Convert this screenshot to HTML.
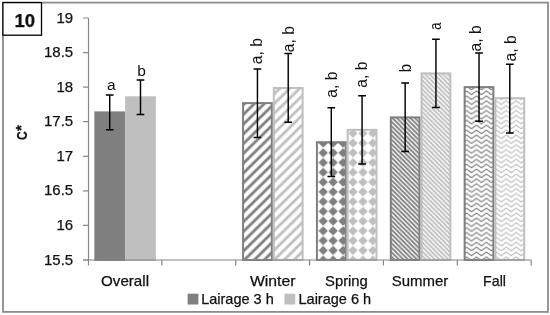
<!DOCTYPE html><html><head><meta charset="utf-8"><style>
html,body{margin:0;padding:0;background:#fff;width:550px;height:315px;overflow:hidden}
svg{display:block}
text{font-family:'Liberation Sans', Arial, sans-serif;fill:#111;stroke:#111;stroke-width:0.25px}
</style></head><body>
<svg width="550" height="315" viewBox="0 0 550 315">
<defs>
<pattern id="upd" patternUnits="userSpaceOnUse" x="2.4" y="0" width="9.93" height="9.76">
<rect width="9.93" height="9.76" fill="#fff"/>
<path d="M-9.93 19.52 L19.86 -9.76 M-19.86 19.52 L9.93 -9.76 M0 19.52 L29.79 -9.76" stroke="#7f7f7f" stroke-width="2.80"/>
</pattern>
<pattern id="dnd" patternUnits="userSpaceOnUse" x="4.4" y="0" width="4.5" height="4.5">
<rect width="4.5" height="4.5" fill="#fff"/>
<path d="M-4.5 -4.5 L9.0 9.0 M0 -4.5 L13.5 9.0 M-9.0 -4.5 L4.5 9.0" stroke="#7f7f7f" stroke-width="1.78"/>
</pattern>
<pattern id="diad" patternUnits="userSpaceOnUse" x="318.24" y="147.92" width="9.93" height="9.76">
<rect width="9.93" height="9.76" fill="#fff"/>
<path d="M4.965 0.20999999999999996 L9.709375 4.88 L4.965 9.55 L0.22062500000000007 4.88 Z" fill="#7f7f7f"/>
</pattern>
<pattern id="zzd" patternUnits="userSpaceOnUse" x="466.54" y="198.34" width="9.93" height="4.88">
<rect width="9.93" height="4.88" fill="#fff"/>
<path d="M-4.965 3.66 L0 0 L4.965 3.66 L9.93 0 L14.895 3.66 M-4.965 8.54 L0 4.88 L4.965 8.54 L9.93 4.88 L14.895 8.54 M-4.965 -1.2199999999999998 L0 -4.88 L4.965 -1.2199999999999998 L9.93 -4.88 L14.895 -1.2199999999999998" fill="none" stroke="#7f7f7f" stroke-width="1.05"/>
</pattern>
<pattern id="upl" patternUnits="userSpaceOnUse" x="2.4" y="0" width="9.93" height="9.76">
<rect width="9.93" height="9.76" fill="#fff"/>
<path d="M-9.93 19.52 L19.86 -9.76 M-19.86 19.52 L9.93 -9.76 M0 19.52 L29.79 -9.76" stroke="#bfbfbf" stroke-width="2.80"/>
</pattern>
<pattern id="dnl" patternUnits="userSpaceOnUse" x="4.4" y="0" width="4.5" height="4.5">
<rect width="4.5" height="4.5" fill="#fff"/>
<path d="M-4.5 -4.5 L9.0 9.0 M0 -4.5 L13.5 9.0 M-9.0 -4.5 L4.5 9.0" stroke="#bfbfbf" stroke-width="1.78"/>
</pattern>
<pattern id="dial" patternUnits="userSpaceOnUse" x="318.24" y="147.92" width="9.93" height="9.76">
<rect width="9.93" height="9.76" fill="#fff"/>
<path d="M4.965 0.20999999999999996 L9.709375 4.88 L4.965 9.55 L0.22062500000000007 4.88 Z" fill="#bfbfbf"/>
</pattern>
<pattern id="zzl" patternUnits="userSpaceOnUse" x="466.54" y="198.34" width="9.93" height="4.88">
<rect width="9.93" height="4.88" fill="#fff"/>
<path d="M-4.965 3.66 L0 0 L4.965 3.66 L9.93 0 L14.895 3.66 M-4.965 8.54 L0 4.88 L4.965 8.54 L9.93 4.88 L14.895 8.54 M-4.965 -1.2199999999999998 L0 -4.88 L4.965 -1.2199999999999998 L9.93 -4.88 L14.895 -1.2199999999999998" fill="none" stroke="#bfbfbf" stroke-width="1.05"/>
</pattern>
</defs>
<rect x="0" y="0" width="550" height="315" fill="#fff"/>
<rect x="3" y="2.6" width="545" height="309.3" fill="none" stroke="#8c8c8c" stroke-width="1.8"/>

<rect x="95.35" y="112.40" width="28.75" height="147.60" fill="#7f7f7f" stroke="#7f7f7f" stroke-width="2"/>
<rect x="126.10" y="97.30" width="28.80" height="162.70" fill="#bfbfbf" stroke="#bfbfbf" stroke-width="2"/>
<rect x="243.07" y="103.10" width="28.75" height="156.90" fill="url(#upd)" stroke="#7f7f7f" stroke-width="2"/>
<rect x="273.82" y="88.00" width="28.80" height="172.00" fill="url(#upl)" stroke="#bfbfbf" stroke-width="2"/>
<rect x="316.93" y="142.20" width="28.75" height="117.80" fill="url(#diad)" stroke="#7f7f7f" stroke-width="2"/>
<rect x="347.68" y="129.85" width="28.80" height="130.15" fill="url(#dial)" stroke="#bfbfbf" stroke-width="2"/>
<rect x="390.79" y="117.40" width="28.75" height="142.60" fill="url(#dnd)" stroke="#7f7f7f" stroke-width="2"/>
<rect x="421.54" y="73.40" width="28.80" height="186.60" fill="url(#dnl)" stroke="#bfbfbf" stroke-width="2"/>
<rect x="464.65" y="87.10" width="28.75" height="172.90" fill="url(#zzd)" stroke="#7f7f7f" stroke-width="2"/>
<rect x="495.40" y="98.20" width="28.80" height="161.80" fill="url(#zzl)" stroke="#bfbfbf" stroke-width="2"/>
<path d="M88.5 18 V265.5 M83 260.0 H531.5" stroke="#868686" stroke-width="1.2" fill="none"/>
<path d="M83 18.00 H88.5 M83 52.57 H88.5 M83 87.14 H88.5 M83 121.71 H88.5 M83 156.29 H88.5 M83 190.86 H88.5 M83 225.43 H88.5 M83 260.00 H88.5 M161.86 260.0 V265.5 M235.72 260.0 V265.5 M309.58 260.0 V265.5 M383.44 260.0 V265.5 M457.30 260.0 V265.5 M531.16 260.0 V265.5" stroke="#868686" stroke-width="1.2" fill="none"/>
<path d="M109.72 95.10 V129.70" stroke="#000" stroke-width="1.45" fill="none"/>
<path d="M105.88 95.10 H113.57 M105.88 129.70 H113.57" stroke="#000" stroke-width="1.5" fill="none"/>
<path d="M140.50 80.10 V114.60" stroke="#000" stroke-width="1.45" fill="none"/>
<path d="M136.65 80.10 H144.35 M136.65 114.60 H144.35" stroke="#000" stroke-width="1.5" fill="none"/>
<path d="M257.44 68.90 V137.40" stroke="#000" stroke-width="1.45" fill="none"/>
<path d="M253.59 68.90 H261.30 M253.59 137.40 H261.30" stroke="#000" stroke-width="1.5" fill="none"/>
<path d="M288.22 53.60 V122.30" stroke="#000" stroke-width="1.45" fill="none"/>
<path d="M284.37 53.60 H292.07 M284.37 122.30 H292.07" stroke="#000" stroke-width="1.5" fill="none"/>
<path d="M331.30 107.85 V176.40" stroke="#000" stroke-width="1.45" fill="none"/>
<path d="M327.45 107.85 H335.15 M327.45 176.40 H335.15" stroke="#000" stroke-width="1.5" fill="none"/>
<path d="M362.08 95.70 V164.00" stroke="#000" stroke-width="1.45" fill="none"/>
<path d="M358.23 95.70 H365.93 M358.23 164.00 H365.93" stroke="#000" stroke-width="1.5" fill="none"/>
<path d="M405.16 83.10 V151.60" stroke="#000" stroke-width="1.45" fill="none"/>
<path d="M401.31 83.10 H409.01 M401.31 151.60 H409.01" stroke="#000" stroke-width="1.5" fill="none"/>
<path d="M435.94 39.20 V107.60" stroke="#000" stroke-width="1.45" fill="none"/>
<path d="M432.09 39.20 H439.79 M432.09 107.60 H439.79" stroke="#000" stroke-width="1.5" fill="none"/>
<path d="M479.02 52.90 V121.25" stroke="#000" stroke-width="1.45" fill="none"/>
<path d="M475.17 52.90 H482.88 M475.17 121.25 H482.88" stroke="#000" stroke-width="1.5" fill="none"/>
<path d="M509.80 64.15 V132.90" stroke="#000" stroke-width="1.45" fill="none"/>
<path d="M505.95 64.15 H513.65 M505.95 132.90 H513.65" stroke="#000" stroke-width="1.5" fill="none"/>
<text x="73.2" y="22.60" font-size="15" text-anchor="end">19</text>
<text x="73.2" y="57.17" font-size="15" text-anchor="end">18.5</text>
<text x="73.2" y="91.74" font-size="15" text-anchor="end">18</text>
<text x="73.2" y="126.31" font-size="15" text-anchor="end">17.5</text>
<text x="73.2" y="160.89" font-size="15" text-anchor="end">17</text>
<text x="73.2" y="195.46" font-size="15" text-anchor="end">16.5</text>
<text x="73.2" y="230.03" font-size="15" text-anchor="end">16</text>
<text x="73.2" y="264.60" font-size="15" text-anchor="end">15.5</text>
<rect x="187.6" y="293.7" width="10.8" height="10.8" fill="#7f7f7f"/>
<rect x="284.4" y="293.7" width="10.8" height="10.8" fill="#bfbfbf"/>
<rect x="2.9" y="2.6" width="38.6" height="32.6" fill="#fff" stroke="#000" stroke-width="1.3"/>
<text x="14.41" y="26.90" font-size="17.5" font-weight="bold" textLength="20.67" lengthAdjust="spacingAndGlyphs">10</text>
<text x="101.03" y="286.20" font-size="14.2" font-weight="normal" textLength="48.02" lengthAdjust="spacingAndGlyphs">Overall</text>
<text x="249.96" y="286.20" font-size="14.2" font-weight="normal" textLength="45.53" lengthAdjust="spacingAndGlyphs">Winter</text>
<text x="325.06" y="286.20" font-size="14.2" font-weight="normal" textLength="42.77" lengthAdjust="spacingAndGlyphs">Spring</text>
<text x="391.81" y="286.20" font-size="14.2" font-weight="normal" textLength="56.46" lengthAdjust="spacingAndGlyphs">Summer</text>
<text x="483.12" y="286.20" font-size="14.2" font-weight="normal" textLength="22.84" lengthAdjust="spacingAndGlyphs">Fall</text>
<text x="201.20" y="303.60" font-size="14.2" font-weight="normal" textLength="72.52" lengthAdjust="spacingAndGlyphs">Lairage 3 h</text>
<text x="298.49" y="303.60" font-size="14.2" font-weight="normal" textLength="72.67" lengthAdjust="spacingAndGlyphs">Lairage 6 h</text>
<text style="stroke-width:0" x="106.96" y="90.00" font-size="15.5" font-weight="normal">a</text>
<text style="stroke-width:0" x="137.22" y="76.40" font-size="15.5" font-weight="normal">b</text>
<text style="stroke-width:0" x="262.30" y="64.28" font-size="16.5" font-weight="normal" transform="rotate(-90 262.30 64.28)" textLength="26.17" lengthAdjust="spacingAndGlyphs">a, b</text>
<text style="stroke-width:0" x="294.40" y="52.28" font-size="16.5" font-weight="normal" transform="rotate(-90 294.40 52.28)" textLength="26.17" lengthAdjust="spacingAndGlyphs">a, b</text>
<text style="stroke-width:0" x="336.70" y="97.73" font-size="16.5" font-weight="normal" transform="rotate(-90 336.70 97.73)" textLength="26.17" lengthAdjust="spacingAndGlyphs">a, b</text>
<text style="stroke-width:0" x="367.10" y="87.68" font-size="16.5" font-weight="normal" transform="rotate(-90 367.10 87.68)" textLength="26.17" lengthAdjust="spacingAndGlyphs">a, b</text>
<text style="stroke-width:0" x="411.30" y="72.19" font-size="16.5" font-weight="normal" transform="rotate(-90 411.30 72.19)" textLength="8.32" lengthAdjust="spacingAndGlyphs">b</text>
<text style="stroke-width:0" x="440.76" y="29.81" font-size="16.5" font-weight="normal" transform="rotate(-90 440.76 29.81)" textLength="7.15" lengthAdjust="spacingAndGlyphs">a</text>
<text style="stroke-width:0" x="481.40" y="51.48" font-size="16.5" font-weight="normal" transform="rotate(-90 481.40 51.48)" textLength="26.17" lengthAdjust="spacingAndGlyphs">a, b</text>
<text style="stroke-width:0" x="515.70" y="61.38" font-size="16.5" font-weight="normal" transform="rotate(-90 515.70 61.38)" textLength="26.17" lengthAdjust="spacingAndGlyphs">a, b</text>
<text x="26.56" y="139.98" font-size="15.5" font-weight="bold" transform="rotate(-90 26.56 139.98)" textLength="8.71" lengthAdjust="spacingAndGlyphs">C</text>
<text x="25.87" y="130.95" font-size="15.5" font-weight="bold" transform="rotate(-90 25.87 130.95)">*</text>
</svg></body></html>
